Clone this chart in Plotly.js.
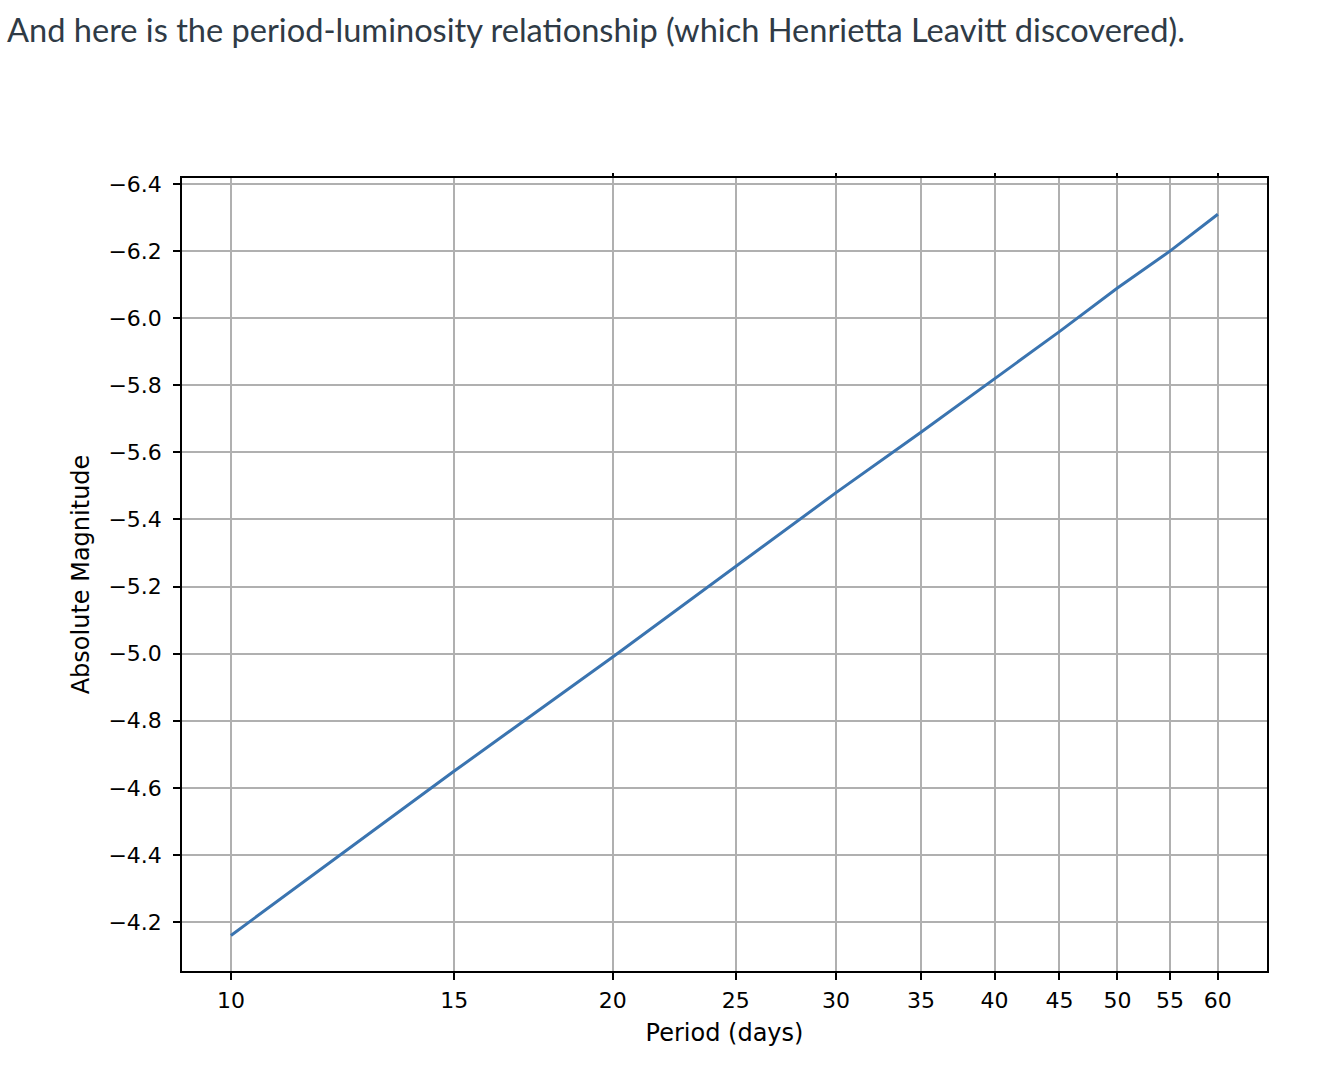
<!DOCTYPE html>
<html>
<head>
<meta charset="utf-8">
<script src="https://cdn.plot.ly/plotly-3.0.1.min.js"></script>
<style>
html,body{margin:0;padding:0;background:#fff;}
#chart{width:1318px;height:1070px;}
</style>
</head>
<body>
<div id="chart"></div>
<script>
// Data
const periods = [10, 15, 20, 25, 30, 35, 40, 45, 50, 55, 60];
const magnitudes = [-4.16, -4.65, -4.99, -5.26, -5.48, -5.66, -5.82, -5.96, -6.09, -6.20, -6.31];
const xTickVals = [10, 15, 20, 25, 30, 35, 40, 45, 50, 55, 60];
const xTickText = ['10', '15', '20', '25', '30', '35', '40', '45', '50', '55', '60'];
const topTickVals = [20, 30, 40, 50, 60];
const yTickVals = [-6.4, -6.2, -6.0, -5.8, -5.6, -5.4, -5.2, -5.0, -4.8, -4.6, -4.4, -4.2];
const yTickText = ['−6.4', '−6.2', '−6.0', '−5.8', '−5.6', '−5.4', '−5.2', '−5.0', '−4.8', '−4.6', '−4.4', '−4.2'];
const headingText = 'And here is the period-luminosity relationship (which Henrietta Leavitt discovered).';

const tickFont = {family: 'DejaVu Sans', size: 22, color: '#000'};
const labelFont = {family: 'DejaVu Sans', size: 24, color: '#000'};
const xRange = [Math.log10(9.15), Math.log10(65.6)];

const traces = [
  {
    x: periods, y: magnitudes, type: 'scatter', mode: 'lines',
    line: {color: '#3a74b0', width: 3},
    hoverinfo: 'x+y', showlegend: false
  },
  {
    x: periods, y: magnitudes, type: 'scatter', mode: 'lines',
    xaxis: 'x2', line: {color: 'rgba(0,0,0,0)', width: 0},
    hoverinfo: 'skip', showlegend: false
  }
];

const layout = {
  width: 1318, height: 1070,
  margin: {l: 182, r: 51, t: 178, b: 99, pad: 0},
  paper_bgcolor: '#fff', plot_bgcolor: '#fff',
  title: {
    text: headingText,
    font: {family: 'Lato', size: 32.6, color: '#2f3b46'},
    xref: 'container', yref: 'container',
    x: 7 / 1318, xanchor: 'left',
    y: 1 - 31 / 1070, yanchor: 'middle'
  },
  xaxis: {
    type: 'log', range: xRange,
    tickmode: 'array', tickvals: xTickVals, ticktext: xTickText,
    ticks: 'outside', ticklen: 7, tickwidth: 1.5, tickcolor: '#000',
    tickfont: tickFont, ticklabelstandoff: 2,
    showgrid: true, gridcolor: '#b0b0b0', gridwidth: 1.5,
    showline: true, linecolor: '#000', linewidth: 1.6, mirror: true,
    zeroline: false,
    title: {text: 'Period (days)', font: labelFont, standoff: 12}
  },
  xaxis2: {
    type: 'log', range: xRange, overlaying: 'x', side: 'top',
    tickmode: 'array', tickvals: topTickVals,
    ticks: 'outside', ticklen: 4, tickwidth: 1.5, tickcolor: '#000',
    showticklabels: false, showgrid: false, showline: false, zeroline: false
  },
  yaxis: {
    range: [-4.054, -6.418],
    tickmode: 'array', tickvals: yTickVals, ticktext: yTickText,
    ticks: 'outside', ticklen: 7, tickwidth: 1.5, tickcolor: '#000',
    tickfont: tickFont, ticklabelstandoff: 7,
    showgrid: true, gridcolor: '#b0b0b0', gridwidth: 1.5,
    showline: true, linecolor: '#000', linewidth: 1.6, mirror: true,
    zeroline: false,
    title: {text: 'Absolute Magnitude', font: labelFont, standoff: 12}
  }
};

Plotly.newPlot('chart', traces, layout, {displayModeBar: false});
</script>
</body>
</html>
